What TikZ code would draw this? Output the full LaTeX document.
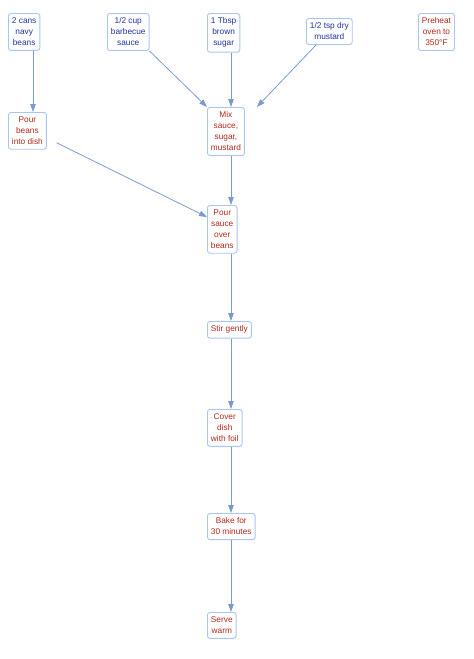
\documentclass[tikz,border=0pt]{standalone}
\usepackage{fontspec}
\setmainfont{Liberation Sans}
\usetikzlibrary{arrows.meta}
\definecolor{boxline}{HTML}{A9C5F2}
\definecolor{arrowline}{HTML}{7B9AD0}
\definecolor{ingtext}{HTML}{22339C}
\definecolor{steptext}{HTML}{B0281C}

\begin{document}
\begin{tikzpicture}[x=1pt, y=-1pt,
    box/.style={draw=boxline, fill=white, rounded corners=2.5pt, line width=0.9pt,
      anchor=north west, align=center, inner xsep=3.5pt, inner ysep=4.5pt,
      font=\fontsize{8.3}{11}\selectfont},
    ingredient/.style={box, text=ingtext},
    stepbox/.style={box, text=steptext},
    arr/.style={draw=arrowline, line width=0.8pt, -{Triangle[length=8pt,width=5.5pt]}}]
    \useasboundingbox (0,0) rectangle (474,659);

    % Ingredientes
    \node[ingredient] (cans) at (8,13) {2 cans\\navy\\beans};
    \node[ingredient] (bbq) at (107,13) {1/2 cup\\barbecue\\sauce};
    \node[ingredient] (sugar) at (207,13) {1 Tbsp\\brown\\sugar};
    \node[ingredient] (mustard) at (306,18) {1/2 tsp dry\\mustard};
    \node[stepbox] (preheat) at (418,13) {Preheat\\oven to\\350°F};

    % Passos
    \node[stepbox] (pourbeans) at (8,112) {Pour\\beans\\into dish};
    \node[stepbox] (mix) at (207,107) {Mix\\sauce,\\sugar,\\mustard};
    \node[stepbox] (poursauce) at (207,205) {Pour\\sauce\\over\\beans};
    \node[stepbox] (stir) at (207,321) {Stir gently};
    \node[stepbox] (cover) at (207,409) {Cover\\dish\\with foil};
    \node[stepbox] (bake) at (207,513) {Bake for\\30 minutes};
    \node[stepbox] (serve) at (207,612) {Serve\\warm};

    % Colunas das setas
    \coordinate (leftcol) at (33,0);
    \coordinate (midcol) at (231,0);

    % Setas
    \draw[arr] (cans.south -| leftcol) -- (pourbeans.north -| leftcol);
    \draw[arr] (bbq.south east) -- (mix.north west);
    \draw[arr] (sugar.south -| midcol) -- (mix.north -| midcol);
    \draw[arr] ([xshift=10pt]mustard.south west) -- ([xshift=12pt]mix.north east);
    \draw[arr] ([xshift=10pt,yshift=-12pt]pourbeans.east) -- ([yshift=-12pt]poursauce.north west);
    \draw[arr] (mix.south -| midcol) -- (poursauce.north -| midcol);
    \draw[arr] (poursauce.south -| midcol) -- (stir.north -| midcol);
    \draw[arr] (stir.south -| midcol) -- (cover.north -| midcol);
    \draw[arr] (cover.south -| midcol) -- (bake.north -| midcol);
    \draw[arr] (bake.south -| midcol) -- (serve.north -| midcol);
\end{tikzpicture}
\end{document}
